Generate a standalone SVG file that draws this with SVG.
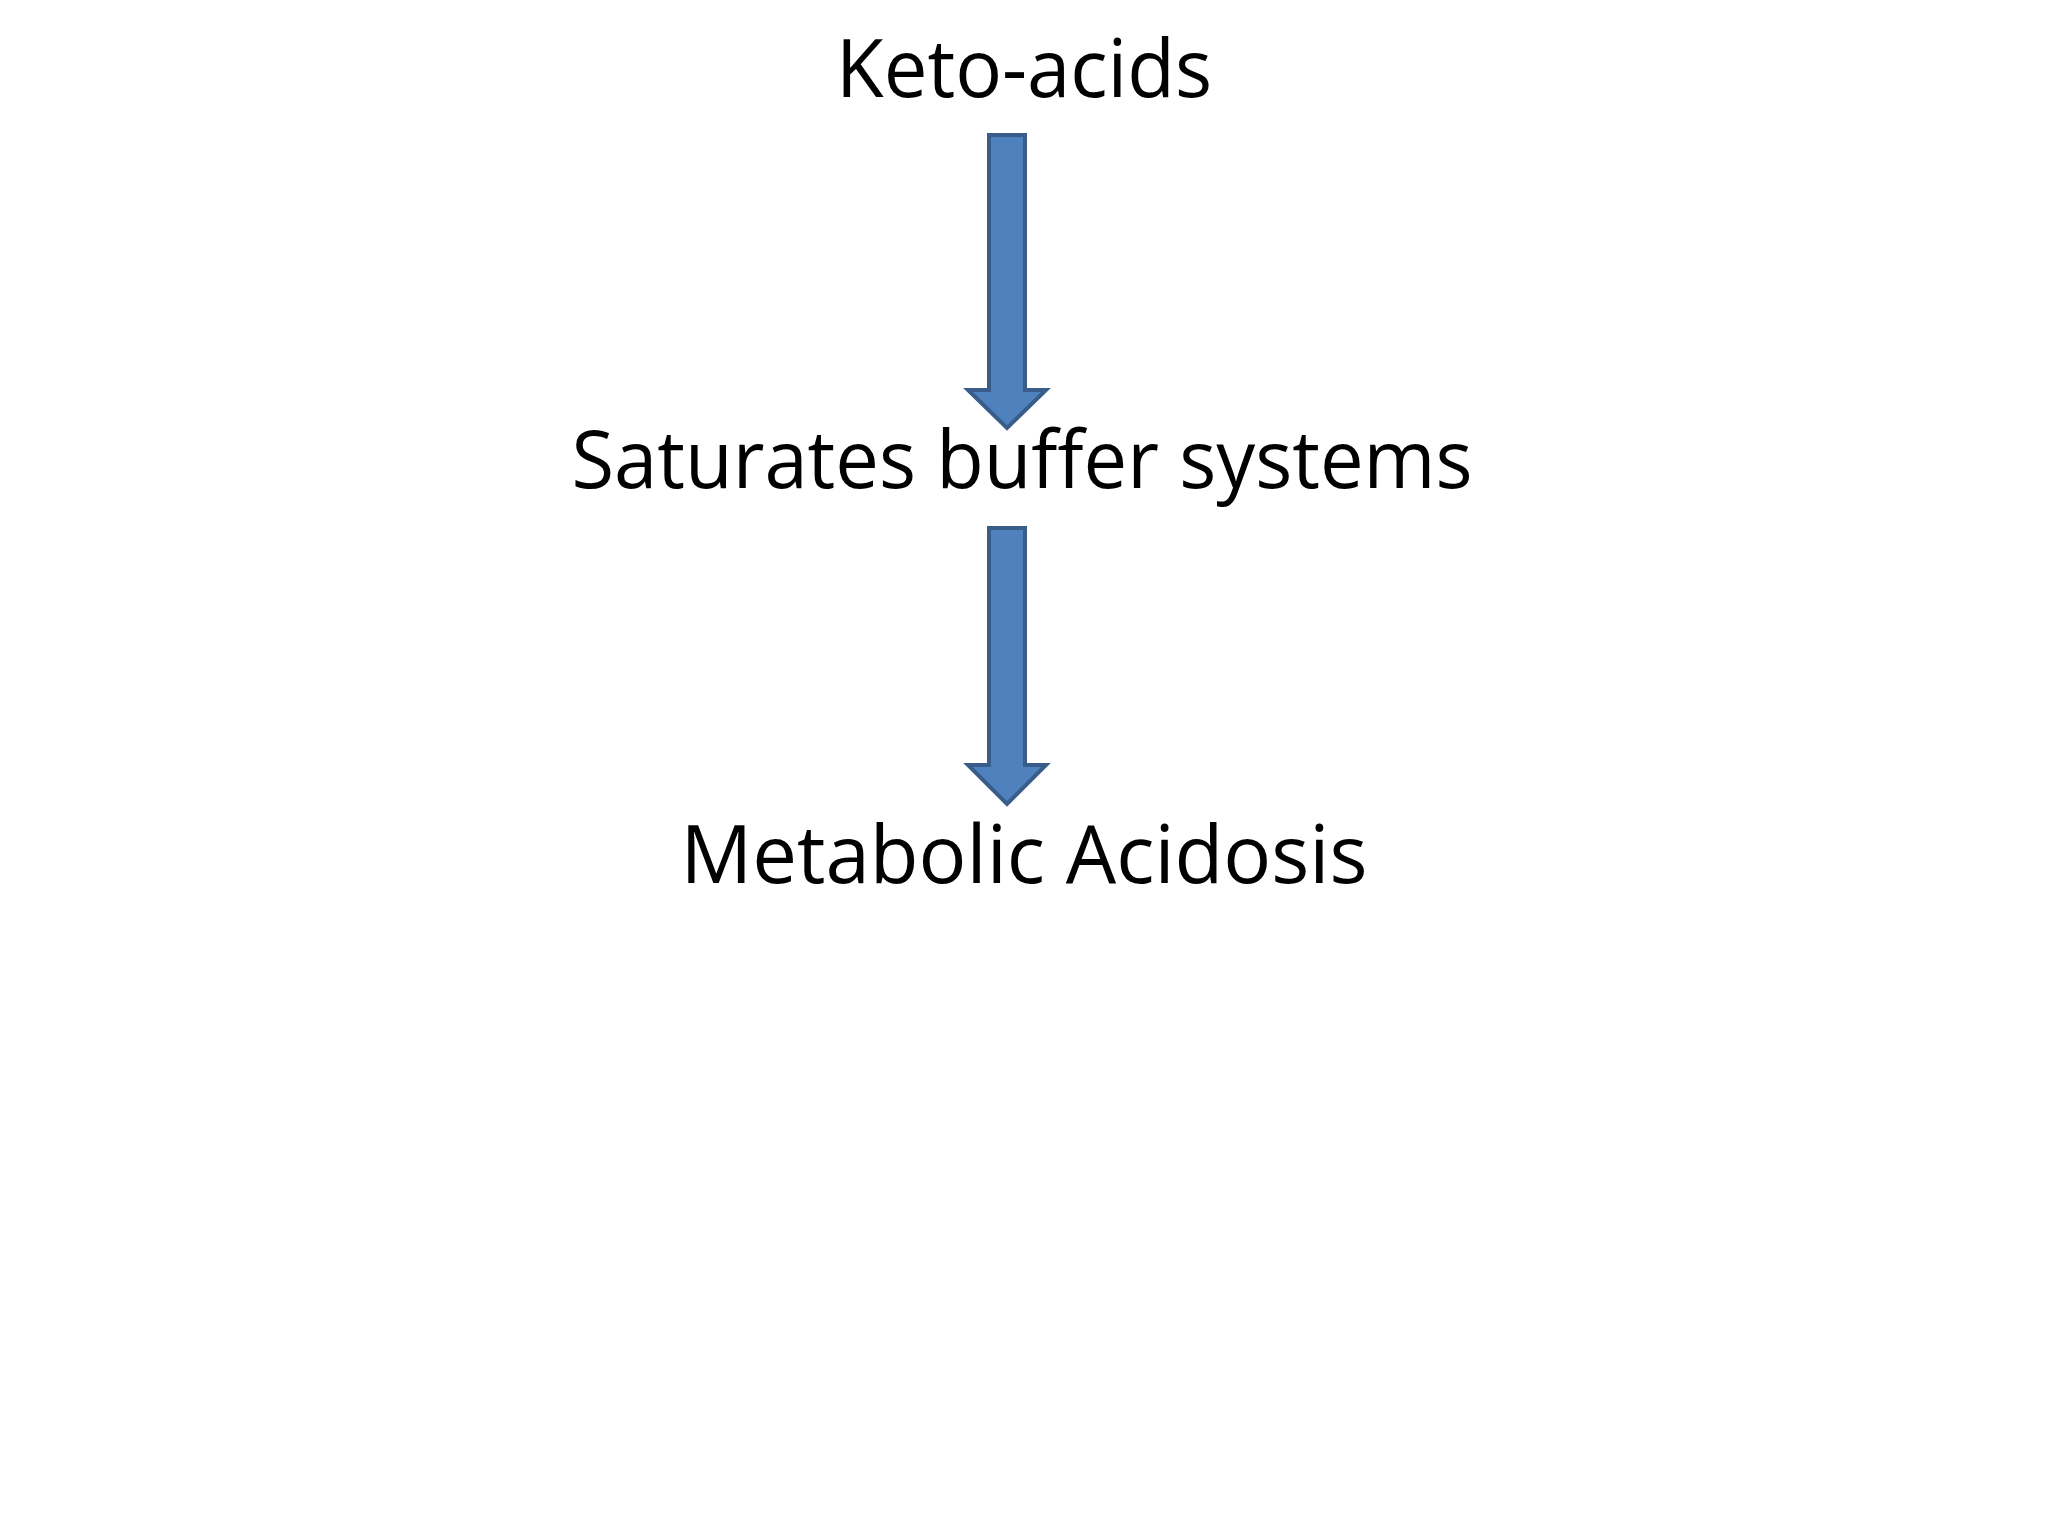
<svg xmlns="http://www.w3.org/2000/svg" width="2048" height="1536" viewBox="0 0 2048 1536">
<style>
text{font-family:"Open Sans","Liberation Sans",sans-serif;font-size:80px;fill:#000;text-anchor:middle}
.arr{fill:#4f81bd;stroke:#385d8a;stroke-width:4}
</style>
<rect width="2048" height="1536" fill="#fff"/>
<g id="n1"><text x="1024" y="97" textLength="376" lengthAdjust="spacingAndGlyphs">Keto-acids</text></g>
<g id="n2"><text x="1022" y="488" textLength="901" lengthAdjust="spacingAndGlyphs">Saturates buffer systems</text></g>
<g id="n3"><text x="1024" y="883" textLength="687" lengthAdjust="spacingAndGlyphs">Metabolic Acidosis</text></g>
<g id="connectors">
<path class="arr" d="M989 135H1025V390H1046L1007 428L968 390H989Z"/>
<path class="arr" d="M989 528H1025V765H1046L1007 804L968 765H989Z"/>
</g>
</svg>
